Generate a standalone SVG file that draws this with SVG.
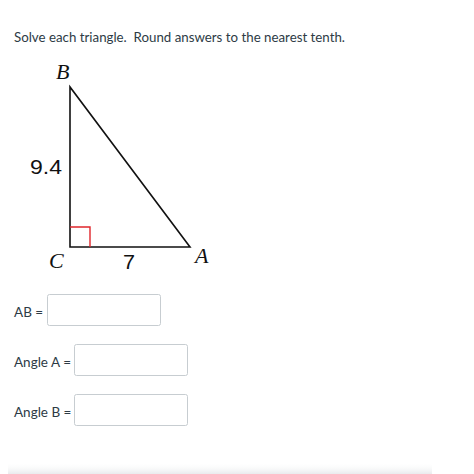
<svg xmlns="http://www.w3.org/2000/svg" width="474" height="474" viewBox="0 0 474 474">
<style>
.ui{font-family:Lato,"Liberation Sans",sans-serif;font-size:13.5px;fill:#2d3b45}
.title{font-size:14px}
.lbl{font-family:"Liberation Serif",serif;font-style:italic;font-size:22px;fill:#111}
.num{font-family:"Liberation Sans",Arial,sans-serif;font-size:20px;fill:#111}
.box{fill:#fff;stroke:#c7cdd1;stroke-width:1}
</style>
<defs>
<linearGradient id="sh" x1="0" y1="0" x2="0" y2="1">
<stop offset="0" stop-color="#fff" stop-opacity="0"/>
<stop offset="1" stop-color="#e9ebed"/>
</linearGradient>
</defs>
<rect width="474" height="474" fill="#fff"/>
<rect x="8" y="462" width="424" height="12" fill="url(#sh)"/>
<text class="ui title" x="14" y="42" xml:space="preserve" textLength="331" lengthAdjust="spacingAndGlyphs">Solve each triangle.  Round answers to the nearest tenth.</text>
<g id="triangle">
<polygon points="70,87 70,247 190,247" fill="none" stroke="#111" stroke-width="1.6"/>
<polyline points="70,227 90,227 90,247" fill="none" stroke="#e0262b" stroke-width="1.4"/>
</g>
<g id="labels">
<text class="lbl" x="56" y="79">B</text>
<text class="num" x="30" y="174" textLength="32" lengthAdjust="spacingAndGlyphs">9.4</text>
<text class="lbl" x="49" y="268">C</text>
<text class="num" x="123" y="269" textLength="12" lengthAdjust="spacingAndGlyphs">7</text>
<text class="lbl" x="195" y="263">A</text>
</g>
<g id="ab">
<text class="ui" x="14" y="317">AB =</text>
<rect class="box" x="47.5" y="294.5" width="113" height="31" rx="2"/>
</g>
<g id="angleA">
<text class="ui" x="14" y="367">Angle A =</text>
<rect class="box" x="74.5" y="344.5" width="113" height="31" rx="2"/>
</g>
<g id="angleB">
<text class="ui" x="14" y="417">Angle B =</text>
<rect class="box" x="74.5" y="394.5" width="113" height="31" rx="2"/>
</g>
</svg>
